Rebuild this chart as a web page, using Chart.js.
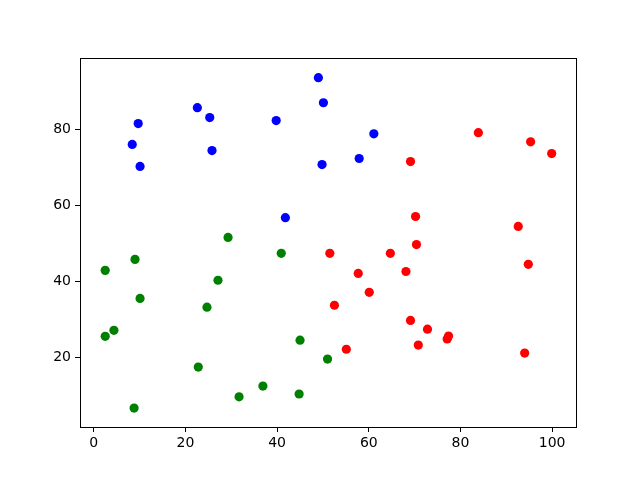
<!DOCTYPE html>
<html>
<head>
<meta charset="utf-8">
<script src="https://cdn.jsdelivr.net/npm/chart.js@4.4.1/dist/chart.umd.min.js"></script>
<style>
  html, body { margin: 0; padding: 0; background: #fff; }
  #wrap { width: 640px; height: 480px; }
</style>
</head>
<body>
<div id="wrap"><canvas id="chart" width="640" height="480"></canvas></div>
<script>
// values
const blueX = [9.7, 8.4, 10.1, 22.6, 25.3, 25.8, 39.8, 41.8, 49.0, 50.1, 49.8, 61.1, 57.9]
const blueY = [81.6, 76.1, 70.3, 85.8, 83.2, 74.5, 82.4, 56.8, 93.7, 87.1, 70.8, 78.9, 72.4]

const redX = [69.1, 83.9, 95.3, 99.9, 70.2, 92.6, 70.4, 51.5, 64.7, 94.8, 57.7, 68.1, 60.1, 52.5, 69.1, 72.8, 77.4, 77.1, 70.8, 55.1, 94.0]
const redY = [71.6, 79.2, 76.8, 73.7, 57.1, 54.5, 49.7, 47.4, 47.4, 44.5, 42.1, 42.6, 37.1, 33.7, 29.7, 27.4, 25.6, 24.8, 23.2, 22.1, 21.1]

const greenX = [29.3, 40.9, 9.0, 2.5, 27.1, 10.1, 24.7, 4.4, 2.5, 45.0, 51.0, 22.8, 36.9, 31.7, 44.8, 8.8]
const greenY = [51.6, 47.4, 45.8, 42.9, 40.3, 35.5, 33.2, 27.1, 25.5, 24.5, 19.5, 17.4, 12.4, 9.55, 10.3, 6.6]

const xTicks = [0, 20, 40, 60, 80, 100]
const yTicks = [20, 40, 60, 80]

function toPoints(xs, ys) {
  return xs.map((x, i) => ({ x: x, y: ys[i] }))
}

// matplotlib-like frame around the plot area
const frame = {
  id: 'frame',
  afterDraw(chart) {
    const { ctx, chartArea: a } = chart
    ctx.save()
    ctx.strokeStyle = '#000'
    ctx.lineWidth = 1
    ctx.strokeRect(a.left + 0.5, a.top + 0.5, a.right - a.left, a.bottom - a.top)
    ctx.restore()
  },
}

const font = { family: 'DejaVu Sans', size: 14 }

const ds = (pts, color) => ({
  data: pts,
  backgroundColor: color,
  borderColor: color,
  borderWidth: 0,
  pointRadius: 4.6,
  pointHoverRadius: 4.6,
})

new Chart(document.getElementById('chart').getContext('2d'), {
  type: 'scatter',
  data: {
    datasets: [
      ds(toPoints(blueX, blueY), '#0000ff'),
      ds(toPoints(redX, redY), '#ff0000'),
      ds(toPoints(greenX, greenY), '#008000'),
    ],
  },
  options: {
    responsive: false,
    animation: false,
    layout: { padding: { left: 0, right: 64, top: 58, bottom: 0 } },
    plugins: { legend: { display: false }, tooltip: { enabled: false } },
    scales: {
      x: {
        type: 'linear',
        min: -3.0,
        max: 105.2,
        afterBuildTicks: (s) => { s.ticks = xTicks.map((v) => ({ value: v })) },
        afterFit: (s) => { s.height = 53 },
        grid: { drawOnChartArea: false, drawTicks: true, tickLength: 5, tickColor: '#000', tickWidth: 1 },
        border: { display: false },
        ticks: { color: '#000', font, padding: 3, maxRotation: 0 },
      },
      y: {
        type: 'linear',
        min: 1.6,
        max: 98.9,
        afterBuildTicks: (s) => { s.ticks = yTicks.map((v) => ({ value: v })) },
        afterFit: (s) => { s.width = 80 },
        grid: { drawOnChartArea: false, drawTicks: true, tickLength: 5, tickColor: '#000', tickWidth: 1 },
        border: { display: false },
        ticks: { color: '#000', font, padding: 4 },
      },
    },
  },
  plugins: [frame],
})
</script>
</body>
</html>
